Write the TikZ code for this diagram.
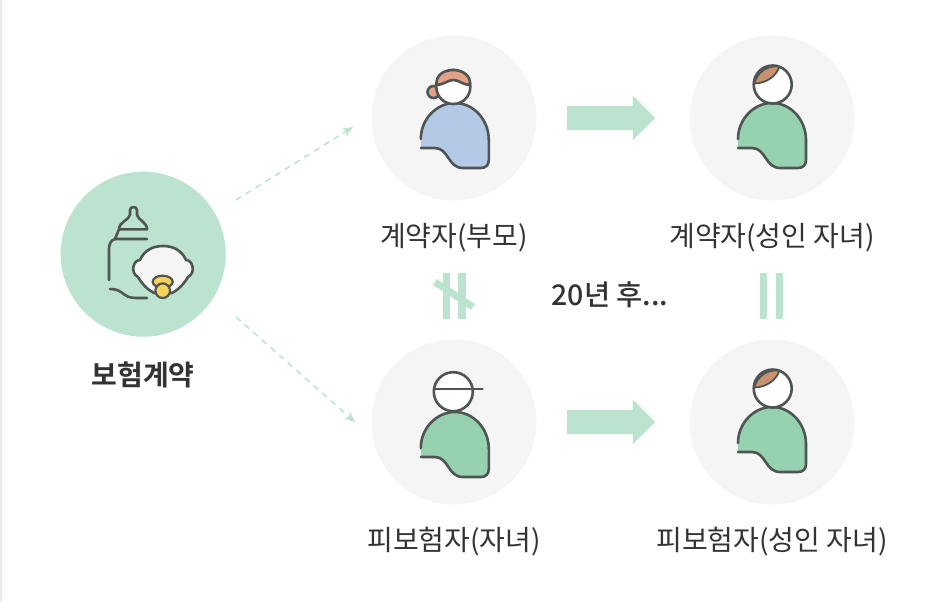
\documentclass[tikz,border=0pt]{standalone}
\usepackage{fontspec}
\setmainfont{Noto Sans CJK KR}
\newfontfamily\krbold{Noto Sans CJK KR Bold}
\newfontfamily\krmed{Noto Sans CJK KR Medium}
\usetikzlibrary{shapes.arrows,arrows.meta}
\definecolor{mint}{HTML}{BCE3CF}
\definecolor{disc}{HTML}{F5F5F5}
\definecolor{ink}{HTML}{4F5553}
\definecolor{bodygreen}{HTML}{96D1B0}
\definecolor{bodyblue}{HTML}{B3C9E6}
\definecolor{hair}{HTML}{E3A287}
\definecolor{hairb}{HTML}{C9916F}
\definecolor{txt}{HTML}{333333}
\definecolor{yolk}{HTML}{F7D35C}
\newcommand\torso[2]{% #1 = position, #2 = fill
  \begin{scope}[shift={#1}]
    \fill[#2] (-34,36) .. controls (-34,16) and (-18,0) .. (0,0)
      .. controls (19,0) and (34,17) .. (34,37) -- (34,57)
      .. controls (34,62) and (31,65) .. (26,65) -- (8,65)
      .. controls (-7,65) and (-6,45) .. (-20,45) -- (-34,45) -- cycle;
    \draw[icon] (-34,36) .. controls (-34,16) and (-18,0) .. (0,0)
      .. controls (19,0) and (34,17) .. (34,37) -- (34,57)
      .. controls (34,62) and (31,65) .. (26,65) -- (8,65)
      .. controls (-7,65) and (-6,45) .. (-20,45) -- (-34,45);
  \end{scope}}
\newcommand\adulthead[1]{%
  \begin{scope}[shift={#1}]
    \filldraw[icon,fill=white] (0,0) circle [radius=19];
    \filldraw[icon,fill=hairb,line width=1.8pt] (-18.5,-1) .. controls (-16,-11) and (-6,-20) .. (6.6,-17.8)
      .. controls (4,-9) and (-6,-1) .. (-18.5,-1) -- cycle;
  \end{scope}}
\tikzset{
  x=1pt,y=-1pt,
  icon/.style={draw=ink,line width=2.6pt,line cap=round,line join=round},
  discnode/.style={circle,fill=disc,minimum size=165pt,inner sep=0pt},
  label/.style={text=txt,font=\fontsize{28}{32}\selectfont,inner sep=0pt},
  bigarrow/.style={single arrow,fill=mint,minimum height=88pt,minimum width=44pt,
     single arrow head extend=10pt,single arrow tip angle=90,single arrow head indent=0pt,inner sep=0pt},
  dashlink/.style={draw=mint,line width=1.5pt,dash pattern=on 6pt off 5.5pt,-{Stealth[length=11pt,width=9pt]}},
  bar/.style={fill=mint},
}
\begin{document}
\begin{tikzpicture}
\useasboundingbox (0,0) rectangle (947,602);
\fill[white] (0,0) rectangle (947,602);
\fill[black!8] (0,0) rectangle (1.5,602);
% discs
\node[discnode,fill=mint] (baby) at (143.2,254.2) {};
\node[discnode] (tl) at (454,118) {};
\node[discnode] (tr) at (772,118) {};
\node[discnode] (bl) at (454,422) {};
\node[discnode] (br) at (772,422) {};
% bottle
\draw[icon] (119,229.3) -- (147,229.3) .. controls (147,222) and (138,220) .. (137,215)
  -- (137,210) .. controls (137,206) and (130,206) .. (130,210) -- (130,215)
  .. controls (129,220) and (119,222) .. (119,229.3) -- cycle;
\draw[icon] (147,239) -- (115,239) -- (119,229.3);
\draw[icon] (115,239) .. controls (111,240) and (109,244) .. (109,249) -- (109,280);
\draw[icon] (110,289) .. controls (124,289) and (122,298) .. (136,298) -- (147,298);
% baby head
\filldraw[icon,fill=disc] (140,260) .. controls (144,251) and (152,246) .. (163,246)
 .. controls (174,246) and (182,251) .. (186,260)
 .. controls (193,260) and (196,273) .. (188,277)
 .. controls (184,284) and (178,290) .. (172,293) -- (154,293)
 .. controls (148,290) and (142,284) .. (138,277)
 .. controls (130,273) and (133,260) .. (140,260) -- cycle;
\filldraw[draw=ink,fill=yolk,line width=2.2pt] (162.7,281.7) ellipse [x radius=10,y radius=6];
\filldraw[draw=ink,fill=yolk,line width=2.2pt] (162.7,290.7) circle [radius=7.3];
% mother
\torso{(454.8,103)}{bodyblue}
\filldraw[icon,fill=hair] (433.5,92) circle [radius=6];
\filldraw[icon,fill=white] (453.3,87) circle [radius=17];
\filldraw[icon,fill=hair] (436.5,85) .. controls (435.5,75) and (444,70) .. (453.3,70)
  .. controls (463,70) and (471,76) .. (470,85)
  .. controls (463,85) and (459,80) .. (453.3,80)
  .. controls (448,80) and (443,85) .. (436.5,85) -- cycle;
% adult children
\torso{(772,103)}{bodygreen}
\adulthead{(772.7,84.5)}
\torso{(772,407)}{bodygreen}
\adulthead{(772.7,388.5)}
% cap child
\torso{(454.8,412)}{bodygreen}
\filldraw[icon,fill=white] (453.3,391.7) circle [radius=19.5];
\draw[icon] (434,389) -- (482.5,389);
% big arrows
\node[bigarrow] (a1) at (605,118) {\rule{0pt}{24pt}};
\node[bigarrow] (a2) at (605,422) {\rule{0pt}{24pt}};
% bars
\fill[bar] (442.7,272.5) rectangle (449.5,318.5);
\fill[bar] (458.3,272.5) rectangle (465.5,318.5);
\fill[bar] (760,272.5) rectangle (767,318.5);
\fill[bar] (776,272.5) rectangle (783,318.5);
\draw[mint,line width=7pt] (435,282) -- (473,307);
% dashed connectors
\coordinate (s1) at (236,200);
\coordinate (e1) at (353,127);
\coordinate (s2) at (236,317);
\coordinate (e2) at (355,422);
\draw[dashlink] (s1) -- (e1);
\draw[dashlink] (s2) -- (e2);
% labels
\node[label] (l1) at (454,238) {계약자(부모)};
\node[label] (l2) at (772,238) {계약자(성인 자녀)};
\node[label] (l3) at (454,542) {피보험자(자녀)};
\node[label] (l4) at (772,542) {피보험자(성인 자녀)};
\node[label,font=\krbold\fontsize{28}{32}\selectfont] (l5) at (143,375) {보험계약};
\node[label,font=\krmed\fontsize{28.5}{32}\selectfont] (l6) at (610,295) {20년 후...};
\end{tikzpicture}
\end{document}
